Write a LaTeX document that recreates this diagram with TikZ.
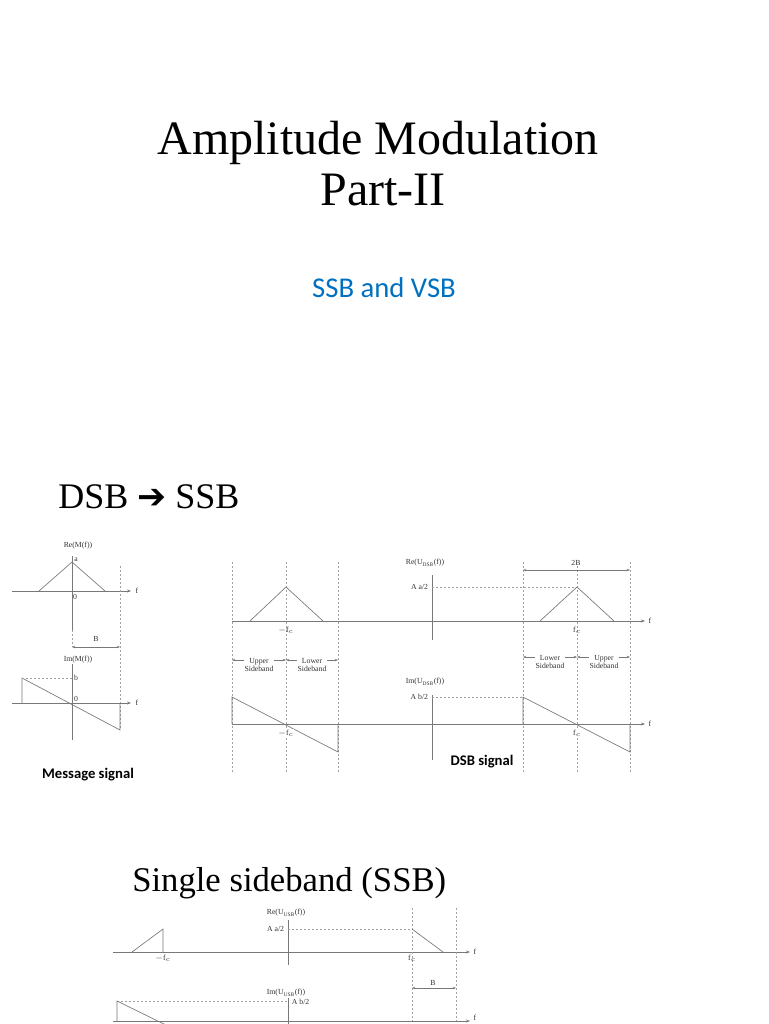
\documentclass[tikz,border=0pt]{standalone}
\usepackage{fontspec}
\setmainfont{Liberation Serif}
\newfontfamily\calfnt{Carlito}
\newfontfamily\dvsfnt{DejaVu Sans}
\usetikzlibrary{arrows.meta}
\definecolor{ln}{RGB}{120,120,120}
\definecolor{dl}{RGB}{160,160,160}
\definecolor{ttl}{RGB}{0,112,192}
\tikzset{
 ax/.style={draw=ln,line width=0.5pt},
 axa/.style={draw=ln,line width=0.5pt,-{Stealth[length=3pt]}},
 dsh/.style={draw=dl,line width=0.4pt,dash pattern=on 1.5pt off 1.5pt},
 dar/.style={draw=ln,line width=0.4pt,{Stealth[length=2.5pt]}-{Stealth[length=2.5pt]}},
 sm/.style={font=\fontsize{5.8}{6.3}\selectfont,text=black!80,inner sep=0.5pt,align=center},
 capt/.style={font=\calfnt\bfseries\fontsize{11}{13}\selectfont},
}
\begin{document}
\begin{tikzpicture}[x=0.75pt,y=-0.75pt]
\useasboundingbox (0,0) rectangle (768,1024);
\clip (0,0) rectangle (768,1024);
% titles
\node[font=\fontsize{36}{40}\selectfont] (t1) at (378,143) {Amplitude Modulation};
\node[font=\fontsize{36}{40}\selectfont] (t2) at (383,190) {Part-II};
\node[font=\calfnt\fontsize{21.5}{24}\selectfont,text=ttl] (t3) at (384,288) {SSB and VSB};
\node[font=\fontsize{27}{30}\selectfont,anchor=west,inner sep=0] (t4) at (58,497) {DSB {\dvsfnt\bfseries\fontsize{26}{26}\selectfont ➔} SSB};
\node[font=\fontsize{26}{30}\selectfont,anchor=west,inner sep=0] (t5) at (132,883) {Single sideband (SSB)};
% ---------- message signal ----------
\node[sm] (mre) at (78,546) {Re(M(f))};
\draw[ax] (72,556) -- (72,630);
\draw[dsh] (72,630) -- (72,647);
\draw[axa] (12,591) -- (131,591);
\node[sm] (mf1) at (137,591) {f};
\draw[ax] (39,591) -- (72,562) -- (105,591);
\node[sm] (ma) at (76,560) {a};
\node[sm] (m0) at (75,597) {0};
\draw[dsh] (120,566) -- (120,730);
\coordinate (bl) at (72,647); \coordinate (br) at (120,647);
\draw[dar] (bl) -- (br);
\node[sm] (mB) at (96,639) {B};
\node[sm] (mim) at (78,660) {Im(M(f))};
\draw[ax] (72,664) -- (72,740);
\draw[axa] (12,703) -- (131,703);
\node[sm] (mf2) at (137,703) {f};
\draw[ax] (22,703) -- (22,678) -- (120,730) -- (120,703);
\draw[dsh] (22,678) -- (72,678);
\node[sm] (mb) at (76,678) {b};
\node[sm] (m02) at (76,699) {0};
\node[capt] (msg) at (88,775) {Message signal};
% ---------- DSB signal ----------
\foreach \x in {232,286,338,523,577,630} \draw[dsh] (\x,562) -- (\x,772);
\node[sm] (dre) at (425,563) {Re(U$_{\mathrm{DSB}}$(f))};
\draw[ax] (432,575) -- (432,640);
\draw[dsh] (432,587) -- (577,587);
\node[sm,anchor=east] (daa) at (429,587) {A a/2};
\draw[axa] (232,621) -- (645,621);
\node[sm] (df1) at (650,621) {f};
\draw[ax] (250,621) -- (286,587) -- (323,621);
\draw[ax] (540,621) -- (577,587) -- (614,621);
\node[sm] (dfc1) at (286,630) {$-$f$_c$};
\node[sm] (dfc2) at (577,630) {f$_c$};
\coordinate (tb1) at (523,570); \coordinate (tb2) at (630,570);
\draw[dar] (tb1) -- (tb2);
\node[sm,fill=white] (d2b) at (576,563) {2B};
\draw[dar] (232,660) -- (286,660); \draw[dar] (286,660) -- (338,660);
\node[sm,fill=white] (us1) at (259,665) {Upper\\Sideband};
\node[sm,fill=white] (ls1) at (312,665) {Lower\\Sideband};
\draw[dar] (523,657) -- (577,657); \draw[dar] (577,657) -- (630,657);
\node[sm,fill=white] (ls2) at (550,662) {Lower\\Sideband};
\node[sm,fill=white] (us2) at (604,662) {Upper\\Sideband};
\node[sm] (dim) at (425,682) {Im(U$_{\mathrm{DSB}}$(f))};
\draw[ax] (432,695) -- (432,760);
\draw[dsh] (432,697) -- (523,697);
\node[sm,anchor=east] (dab) at (429,697) {A b/2};
\draw[axa] (232,724) -- (645,724);
\node[sm] (df2) at (650,724) {f};
\draw[ax] (232,724) -- (232,697) -- (338,752) -- (338,724);
\draw[ax] (523,724) -- (523,697) -- (630,752) -- (630,724);
\node[sm,fill=white] (dfc3) at (286,733) {$-$f$_c$};
\node[sm,fill=white] (dfc4) at (577,733) {f$_c$};
\node[capt] (dsb) at (482,762) {DSB signal};
% ---------- SSB ----------
\node[sm] (sre) at (286,913) {Re(U$_{\mathrm{USB}}$(f))};
\draw[ax] (288,920) -- (288,965);
\draw[dsh] (288,929) -- (412,929);
\node[sm,anchor=east] (saa) at (285,929) {A a/2};
\draw[axa] (113,952) -- (470,952);
\node[sm] (sf1) at (475,952) {f};
\draw[ax] (132,952) -- (163,929) -- (163,952);
\node[sm] (sfc1) at (163,958) {$-$f$_c$};
\draw[dsh] (412,908) -- (412,1024);
\draw[dsh] (456,908) -- (456,1024);
\draw[ax] (412,929) -- (443,952);
\node[sm] (sfc2) at (412,958) {f$_c$};
\coordinate (sb1) at (412,988); \coordinate (sb2) at (456,988);
\draw[dar] (sb1) -- (sb2);
\node[sm] (sB) at (433,983) {B};
\node[sm] (sim) at (286,993) {Im(U$_{\mathrm{USB}}$(f))};
\draw[ax] (288,998) -- (288,1024);
\draw[dsh] (117,1001) -- (288,1001);
\node[sm,anchor=west] (sab) at (291,1002) {A b/2};
\draw[axa] (113,1021) -- (470,1021);
\node[sm] (sf2) at (475,1018) {f};
\draw[ax] (117,1021) -- (117,1001) -- (170,1027);
\end{tikzpicture}
\end{document}
